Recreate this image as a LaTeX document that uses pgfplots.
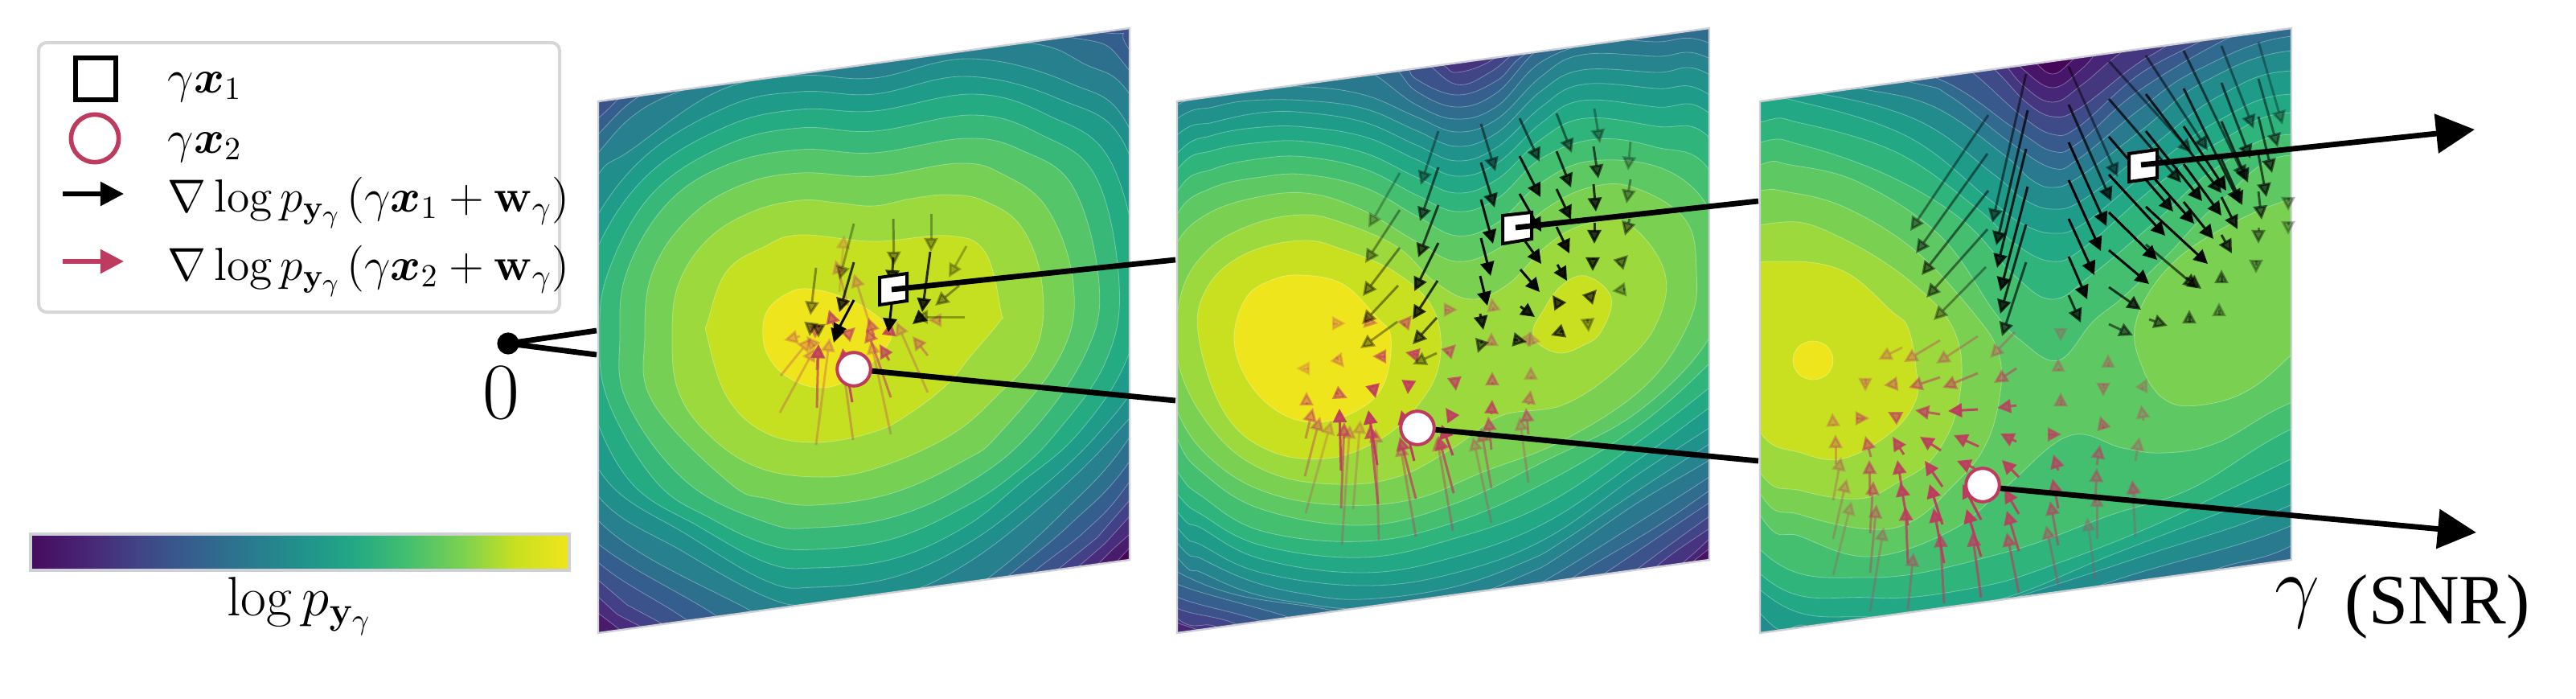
\documentclass[border=0pt]{standalone}
\usepackage{amsmath}
\usepackage[no-math]{fontspec}
\usepackage{pgfplots}
\usepackage{pgfplotstable}
\pgfplotsset{compat=1.18}
\usetikzlibrary{arrows.meta}
\newfontfamily\tms{Liberation Serif}
\DeclareMathSizes{13.3}{13.3}{10.1}{8.1}
\DeclareMathSizes{16.5}{16.5}{12.5}{9.5}

% viridis, named by position x100
\definecolor{v05}{HTML}{471365}\definecolor{v03}{HTML}{460B5E}
\definecolor{v10}{HTML}{482475}\definecolor{v15}{HTML}{463480}
\definecolor{v20}{HTML}{414487}\definecolor{v25}{HTML}{3B528B}
\definecolor{v30}{HTML}{355F8D}\definecolor{v35}{HTML}{2F6C8E}
\definecolor{v40}{HTML}{2A788E}
\definecolor{v45}{HTML}{25848E}\definecolor{v50}{HTML}{21918C}\definecolor{v55}{HTML}{1E9C89}
\definecolor{v60}{HTML}{22A884}\definecolor{v65}{HTML}{2FB47C}\definecolor{v70}{HTML}{44BF70}
\definecolor{v75}{HTML}{5EC962}\definecolor{v80}{HTML}{7AD151}\definecolor{v85}{HTML}{9BD93C}
\definecolor{v92}{HTML}{C8E020}\definecolor{v97}{HTML}{EFE51C}
% first panel has wider colour steps
\definecolor{a91}{HTML}{C5E021}\definecolor{a79}{HTML}{75D054}\definecolor{a73}{HTML}{54C568}
\definecolor{a67}{HTML}{37B878}\definecolor{a61}{HTML}{25AB82}\definecolor{a49}{HTML}{208F8C}
\definecolor{a43}{HTML}{27808E}\definecolor{a37}{HTML}{2D708E}\definecolor{a31}{HTML}{345E8D}
\definecolor{a19}{HTML}{424086}\definecolor{a13}{HTML}{472D7B}\definecolor{a07}{HTML}{481B6D}
\definecolor{a02}{HTML}{450559}
% third panel, valley at the top
\definecolor{c48}{HTML}{228C8D}\definecolor{c41}{HTML}{297A8E}\definecolor{c34}{HTML}{306A8E}
\definecolor{c28}{HTML}{38598C}\definecolor{c22}{HTML}{3F4B89}\definecolor{c16}{HTML}{45377F}
\definecolor{c11}{HTML}{482677}\definecolor{c06}{HTML}{47166A}
\definecolor{crim}{HTML}{BE3A5E}
\definecolor{boxgray}{HTML}{D6D6D6}
\definecolor{edgegray}{HTML}{CFCFD6}

% a tikz shade only shows the middle half of a declared shading
\pgfdeclarehorizontalshading{viridisbar}{100bp}{
 color(0bp)=(v03);color(25bp)=(v03);color(30bp)=(v10);color(35bp)=(v20);color(40bp)=(v30);color(45bp)=(v40);
 color(50bp)=(v50);color(55bp)=(v60);color(60bp)=(v70);color(65bp)=(v80);color(70bp)=(v92);color(75bp)=(v97);color(100bp)=(v97)}

\newcommand{\lev}[2]{\addplot[fill=#1,draw=white,draw opacity=.33,line width=.2pt,smooth cycle,tension=.65] coordinates {#2};}
\newcommand{\levs}[2]{\addplot[fill=#1,draw=white,draw opacity=.33,line width=.2pt] coordinates {#2} --cycle;}
\newcommand{\base}[1]{\addplot[fill=#1,draw=none] coordinates {(600,0) (3000,0) (3000,868) (600,868)} --cycle;}

% arrows: tail x y, tip xe ye, opacity a
\pgfplotstableread{
x y xe ye a
1111 272 1112 330 .35
1158 266 1158 313 .3
1202 306 1180 345 .25
1062 278 1044 348 .3
1062 326 1044 388 .75
1015 333 1008 392 .35
1111 320 1109 353 .7
1157 313 1147 388 .8
1193 355 1163 380 .35
1200 394 1137 394 .3
1109 378 1105 413 .95
1148 392 1135 403 .8
1062 373 1037 420 1
1009 402 1007 418 .4
1041 413 1037 426 .9
1018 407 1018 420 .4
1741 215 1702 283 .25
1741 261 1698 327 .35
1741 308 1695 368 .4
1739 355 1694 403 .4
1738 400 1692 433 .35
1787 439 1757 453 .35
1789 163 1767 230 .35
1789 208 1766 275 .55
1789 255 1764 320 .65
1789 302 1759 362 .75
1788 349 1757 397 .75
1787 395 1757 428 .6
1842 154 1860 213 .45
1842 202 1859 258 .7
1842 248 1857 303 .9
1842 296 1854 343 .95
1841 343 1850 380 .95
1841 390 1845 410 .8
1890 147 1915 201 .55
1890 194 1916 245 .85
1890 241 1917 288 .95
1897 300 1917 328 .95
1891 335 1915 363 .95
1891 381 1909 394 .85
1936 141 1955 190 .45
1936 188 1954 233 .75
1936 235 1954 273 .85
1936 282 1952 315 .9
1937 329 1949 349 .9
1940 380 1931 367 .7
1983 135 1990 178 .3
1982 182 1988 222 .6
1982 229 1985 263 .75
1983 277 1983 303 .75
1981 323 1981 337 .7
1975 372 1986 360 .6
1975 402 1976 413 .3
2028 176 2025 212 .25
2028 223 2023 253 .35
2027 272 2021 293 .45
2014 328 2025 317 .45
2019 360 2005 362 .3
1888 423 1899 425 .6
1842 427 1838 439 .5
1940 413 1929 417 .6
2473 143 2376 287 .4
2472 191 2383 315 .45
2473 237 2390 342 .5
2472 285 2396 370 .45
2470 332 2405 398 .35
2520 92 2478 277 .5
2522 137 2483 305 .7
2520 185 2484 333 .8
2522 232 2488 362 .85
2520 279 2488 390 .75
2520 326 2490 418 .6
2573 83 2634 220 .45
2573 130 2626 250 .7
2573 177 2620 281 .9
2573 224 2613 312 1
2573 272 2605 342 .95
2573 319 2596 372 .9
2573 367 2588 401 .7
2623 76 2726 190 .45
2623 123 2713 227 .7
2623 170 2703 263 .9
2623 217 2693 293 1
2623 264 2683 323 1
2623 311 2673 353 .95
2623 357 2663 385 .7
2623 403 2653 417 .5
2669 69 2746 187 .5
2669 117 2763 240 .8
2669 163 2739 250 .9
2669 210 2729 278 1
2669 257 2746 328 .95
2669 304 2733 358 .6
2716 63 2793 223 .55
2716 110 2786 253 .75
2716 157 2769 237 .9
2716 204 2763 268 .9
2716 251 2753 297 .9
2763 57 2803 160 .4
2763 103 2799 197 .6
2763 151 2796 227 .7
2763 198 2789 255 .75
2763 245 2783 285 .8
2763 292 2776 315 .7
2809 52 2839 155 .3
2809 98 2833 183 .45
2809 145 2826 215 .6
2809 192 2819 245 .6
2809 238 2813 273 .55
2809 283 2809 303 .4
2846 250 2846 262 .3
2846 280 2846 292 .25
2806 330 2806 340 .3
2763 343 2763 335 .4
2723 393 2723 385 .4
2760 385 2760 376 .3
2719 345 2738 359 .6
2673 397 2696 405 .5
}\blackarrows

\pgfplotstableread{
x y xe ye a
1044 363 1050 292 .2
1055 380 1039 323 .3
1087 420 1062 340 .3
1041 417 1031 385 .7
1053 417 1064 407 .6
1087 417 1080 395 .5
1106 415 1108 400 .8
1167 398 1154 398 .3
995 418 975 423 .3
1009 413 1025 405 .45
1007 423 1003 418 .3
971 467 1009 420 .3
970 513 1014 432 .3
1016 507 1018 428 .65
1016 460 1018 428 .6
1015 553 1032 420 .3
1060 500 1048 433 .85
1061 547 1046 437 .35
1108 494 1078 408 .55
1108 540 1083 423 .3
1154 488 1115 400 .3
1154 442 1135 418 .4
1106 448 1094 428 .7
1664 402 1674 402 .25
1703 400 1714 402 .4
1748 402 1756 392 .5
1803 385 1813 385 .35
1857 382 1855 370 .3
1900 420 1905 412 .25
1621 458 1612 458 .2
1665 448 1672 457 .3
1715 443 1707 443 .55
1757 440 1748 438 .7
1802 437 1811 428 .55
1855 425 1855 413 .35
1905 420 1902 412 .25
1904 467 1904 455 .3
1856 475 1856 462 .5
1809 470 1811 486 .7
1752 477 1751 490 .85
1708 482 1711 495 .85
1665 490 1676 495 .55
1625 500 1625 487 .4
1901 503 1904 485 .4
1855 515 1856 497 .7
1807 520 1798 507 .85
1759 573 1743 510 .95
1807 566 1793 528 .95
1714 627 1704 528 .7
1713 578 1702 510 .95
1668 585 1666 508 .9
1668 632 1672 525 .6
1669 677 1679 528 .3
1624 545 1633 507 .45
1623 592 1642 518 .4
1624 638 1656 523 .25
1761 620 1741 543 .7
1761 667 1741 550 .4
1715 672 1711 533 .35
1683 633 1692 522 .25
1808 613 1789 542 .7
1807 660 1787 543 .4
1855 607 1842 532 .45
1855 650 1832 543 .3
1855 559 1851 518 .6
1901 540 1898 507 .5
1901 600 1890 518 .3
2366 432 2336 447 .3
2413 423 2368 450 .35
2460 418 2408 452 .35
2506 413 2475 445 .35
2563 410 2563 425 .25
2560 458 2560 445 .3
2622 450 2622 440 .3
2320 478 2320 487 .3
2360 477 2343 479 .4
2413 469 2374 482 .5
2460 464 2416 482 .5
2508 458 2480 476 .5
2563 497 2563 488 .4
2616 483 2616 493 .35
2666 480 2671 470 .25
2318 520 2325 520 .4
2363 520 2348 512 .6
2413 515 2382 510 .7
2460 509 2423 511 .9
2508 504 2484 507 .75
2615 527 2612 517 .45
2666 523 2663 503 .3
2280 528 2279 513 .3
2283 577 2283 540 .35
2327 568 2320 542 .55
2368 565 2354 543 .8
2414 560 2388 543 .85
2461 555 2430 541 .85
2508 549 2488 539 .8
2556 540 2564 540 .6
2280 622 2290 568 .3
2326 617 2325 572 .55
2366 610 2360 572 .8
2416 605 2394 573 .9
2456 582 2434 573 .9
2511 593 2490 572 .9
2560 585 2554 565 .7
2608 578 2612 553 .5
2656 573 2661 543 .3
2280 670 2297 595 .3
2326 663 2330 598 .5
2373 653 2364 600 .85
2416 652 2400 602 .95
2464 646 2441 602 1
2511 639 2493 608 .85
2560 632 2553 595 .7
2606 625 2608 582 .45
2656 620 2652 597 .3
2280 715 2303 623 .25
2326 712 2334 627 .4
2373 700 2370 630 .75
2418 700 2405 632 .9
2464 692 2446 633 .95
2511 685 2496 635 .8
2560 678 2550 623 .55
2608 670 2608 613 .35
2656 667 2652 597 .3
2326 760 2343 655 .3
2373 758 2380 687 .4
2418 750 2413 663 .6
2464 743 2453 662 .7
2511 737 2496 662 .6
2560 727 2545 653 .4
2606 720 2596 643 .25
}\redarrows

\begin{document}
\begin{tikzpicture}
\begin{axis}[
  scale only axis, width=801pt, height=217pt,
  xmin=0, xmax=3204, ymin=0, ymax=868,
  y dir=reverse, hide axis, clip=false,
  point meta min=0, point meta max=1,
  quiver arrows/.style={
    quiver={u=\thisrow{xe}-\thisrow{x}, v=\thisrow{ye}-\thisrow{y},
      every arrow/.append style={
        /utils/exec={\pgfmathsetmacro\aop{\pgfplotspointmetatransformed/1000}},
        opacity=\aop, line width=.75pt,
        -{Triangle[length=4.3pt,width=4.3pt]}}}}
]
% keeps the page as large as the whole axis
\addplot[draw=none] coordinates {(0,0)(3204,868)};
% ---- panel 1
\begin{scope}
\clip (axis cs:744,126) -- (axis cs:1405,35) -- (axis cs:1405,696) -- (axis cs:744,787) -- cycle;
\base{a02}
\levs{a07}{(700,-50)(1500,-50)(1500,590)(1404,682)(1392,695)(1370,720)(700,900)}
\levs{a13}{(700,-50)(1500,-50)(1500,570)(1404,665)(1385,682)(1368,699)(1340,730)(800,830)(770,782)(745,763)(700,725)}
\levs{a19}{(700,-50)(1500,-50)(1500,550)(1404,643)(1375,675)(1343,703)(1310,735)(830,830)(797,779)(768,764)(745,743)(700,700)}
\levs{v25}{(700,-50)(1500,-50)(1500,530)(1404,623)(1365,668)(1317,707)(1280,745)(860,830)(823,775)(780,752)(745,722)(700,680)}
\lev{a31}{(744,147)(850,70)(1100,25)(1367,40)(1405,62)(1500,220)(1500,450)(1404,600)(1350,660)(1287,710)(1220,770)(1014,860)(920,825)(853,770)(745,700)(680,620)(630,400)(660,230)}
\lev{a37}{(744,167)(796,119)(870,85)(1100,40)(1328,46)(1405,88)(1490,250)(1490,430)(1404,575)(1333,650)(1258,713)(1180,775)(1014,840)(950,815)(890,765)(745,677)(670,590)(645,400)(670,250)}
\lev{a43}{(744,190)(790,142)(849,112)(936,85)(1100,55)(1275,53)(1350,80)(1405,117)(1470,250)(1480,400)(1404,545)(1322,637)(1230,718)(1140,775)(1014,800)(935,760)(745,648)(680,500)(660,400)(680,270)}
\lev{a49}{(995,94)(1087,97)(1207,73)(1330,103)(1405,160)(1459,353)(1445,460)(1387,540)(1300,625)(1200,702)(1110,742)(1014,752)(955,743)(850,686)(745,618)(692,500)(679,417)(702,303)(744,217)(784,187)(894,113)}
\lev{v55}{(995,114)(1087,117)(1202,95)(1317,123)(1399,180)(1436,353)(1420,460)(1365,540)(1285,615)(1200,678)(1110,718)(1014,730)(955,723)(855,665)(757,600)(711,500)(697,417)(720,313)(793,203)(904,133)}
\lev{a61}{(995,136)(1087,138)(1211,117)(1303,143)(1381,200)(1418,353)(1400,450)(1340,540)(1270,600)(1200,655)(1110,695)(1014,706)(955,700)(870,655)(785,600)(734,500)(722,417)(738,320)(803,220)(904,157)}
\lev{a67}{(995,159)(1087,163)(1211,143)(1294,167)(1363,220)(1392,353)(1375,450)(1312,540)(1260,590)(1200,630)(1110,670)(1014,683)(955,677)(885,645)(817,600)(757,500)(746,417)(757,337)(812,240)(904,180)}
\lev{a73}{(995,186)(1087,190)(1202,172)(1271,187)(1335,233)(1367,353)(1350,440)(1280,540)(1200,603)(1110,643)(1014,656)(955,650)(855,600)(780,500)(771,417)(780,337)(830,253)(904,205)}
\lev{a79}{(995,215)(1087,219)(1193,203)(1248,217)(1303,260)(1335,353)(1320,440)(1242,540)(1200,572)(1110,613)(1014,628)(955,620)(907,600)(812,500)(802,417)(812,337)(858,270)(922,230)}
\lev{v85}{(995,249)(1041,252)(1087,256)(1133,247)(1179,242)(1225,250)(1271,283)(1296,353)(1289,433)(1239,493)(1179,543)(1087,583)(1014,593)(940,580)(881,540)(844,487)(836,420)(844,353)(881,297)(936,263)}
\lev{a91}{(995,292)(1087,300)(1179,293)(1225,313)(1245,387)(1243,400)(1207,443)(1179,477)(1133,513)(1087,537)(1014,550)(950,537)(904,493)(880,420)(881,397)(904,337)(950,307)}
\lev{v97}{(949,420)(955,385)(985,362)(1014,360)(1050,370)(1083,387)(1108,412)(1100,435)(1083,452)(1050,475)(1018,482)(985,472)(960,450)}
\end{scope}
% ---- panel 2
\begin{scope}
\clip (axis cs:1464,126) -- (axis cs:2126,35) -- (axis cs:2126,696) -- (axis cs:1464,787) -- cycle;
\base{v05}
\levs{v10}{(1400,0)(2200,0)(2200,620)(2126,682)(2107,697)(2080,730)(1800,850)(1400,850)}
\levs{v15}{(1400,0)(2200,0)(2200,600)(2126,670)(2110,685)(2095,698)(2060,735)(1800,850)(1520,850)(1490,783)(1466,775)(1400,720)}
\lev{v20}{(1793,80)(1740,55)(1640,20)(1500,20)(1400,60)(1371,200)(1371,500)(1400,690)(1466,770)(1512,779)(1560,810)(1700,850)(1900,830)(2020,750)(2063,702)(2126,657)(2180,620)(2250,500)(2250,200)(2200,60)(2050,10)(1950,10)(1899,37)(1855,75)(1812,90)}
\lev{v25}{(1770,75)(1720,45)(1620,25)(1500,30)(1400,90)(1371,300)(1390,650)(1430,730)(1466,757)(1538,776)(1600,815)(1750,840)(1900,800)(1990,745)(2037,707)(2126,642)(2190,600)(2260,450)(2266,120)(2200,30)(2050,0)(1945,20)(1888,62)(1853,90)(1812,105)}
\lev{v30}{(1745,76)(1690,50)(1600,35)(1480,50)(1395,110)(1385,300)(1395,630)(1430,715)(1466,743)(1568,772)(1640,805)(1780,820)(1900,775)(2000,710)(2126,625)(2190,585)(2243,470)(2243,110)(2174,30)(1991,20)(1899,66)(1862,100)(1812,118)(1761,98)}
\lev{v35}{(1725,78)(1650,62)(1560,60)(1440,93)(1385,150)(1385,600)(1420,695)(1466,727)(1602,767)(1670,795)(1810,800)(1900,760)(1958,717)(2060,655)(2126,610)(2190,565)(2243,450)(2243,110)(2125,30)(1991,33)(1917,59)(1862,115)(1812,133)(1761,113)}
\lev{v40}{(1692,84)(1624,83)(1532,103)(1440,113)(1385,153)(1385,580)(1420,680)(1466,712)(1540,740)(1652,758)(1730,780)(1850,760)(1928,718)(2037,650)(2126,593)(2190,550)(2243,430)(2243,120)(2125,53)(2060,52)(1991,51)(1917,77)(1862,132)(1812,148)(1761,130)}
\lev{v45}{(1465,130)(1509,120)(1555,112)(1624,108)(1697,118)(1761,145)(1812,164)(1862,148)(1917,95)(1968,68)(2060,70)(2125,72)(2243,153)(2243,430)(2190,530)(2126,572)(2037,625)(1945,688)(1900,713)(1807,747)(1695,757)(1620,750)(1555,737)(1495,712)(1466,695)(1385,583)(1385,187)}
\lev{v50}{(1465,147)(1509,133)(1555,125)(1624,125)(1697,135)(1761,162)(1812,182)(1862,165)(1917,113)(1968,87)(2060,90)(2125,92)(2243,187)(2243,450)(2190,510)(2126,552)(2037,610)(1945,672)(1900,697)(1807,730)(1695,745)(1620,738)(1555,722)(1495,695)(1466,677)(1385,567)(1385,220)}
\lev{v55}{(1465,167)(1509,152)(1569,140)(1624,140)(1697,152)(1761,180)(1812,200)(1862,183)(1917,133)(1968,105)(2060,110)(2125,117)(2243,220)(2243,440)(2190,490)(2126,532)(2037,590)(1922,670)(1807,713)(1695,728)(1569,712)(1495,678)(1466,658)(1385,550)(1385,253)}
\lev{v60}{(1465,190)(1509,168)(1569,158)(1624,158)(1697,170)(1761,198)(1812,219)(1862,203)(1917,153)(1968,125)(2060,133)(2125,140)(2220,253)(2220,440)(2180,470)(2126,507)(2037,572)(1922,650)(1807,693)(1695,712)(1569,695)(1495,657)(1466,638)(1394,533)(1394,287)}
\lev{v65}{(1465,210)(1509,187)(1569,177)(1624,176)(1697,190)(1761,220)(1812,240)(1862,223)(1917,173)(1972,147)(2060,157)(2125,170)(2197,287)(2197,420)(2126,482)(2037,550)(1922,627)(1807,670)(1695,693)(1569,678)(1495,640)(1465,615)(1403,533)(1403,320)}
\lev{v70}{(1465,237)(1509,210)(1569,197)(1624,195)(1697,210)(1761,242)(1812,263)(1862,247)(1917,197)(1986,173)(2060,183)(2125,210)(2174,337)(2170,400)(2126,452)(2037,530)(1922,600)(1807,650)(1695,673)(1569,660)(1495,617)(1465,587)(1417,500)(1417,353)}
\lev{v75}{(1465,265)(1509,233)(1569,220)(1624,217)(1697,233)(1761,268)(1812,293)(1862,277)(1917,227)(1980,200)(2069,210)(2126,260)(2142,337)(2126,420)(2037,512)(1922,573)(1807,627)(1695,653)(1569,633)(1495,587)(1465,547)(1440,467)(1440,353)}
\lev{v80}{(1465,300)(1500,267)(1555,247)(1624,240)(1692,260)(1761,300)(1812,325)(1867,307)(1922,260)(1977,233)(2032,233)(2096,273)(2110,337)(2101,400)(2046,480)(1945,547)(1844,587)(1761,620)(1670,628)(1578,613)(1509,573)(1465,513)(1449,433)(1449,353)}
\lev{v85}{(1619,267)(1670,277)(1738,307)(1784,350)(1830,372)(1876,353)(1922,307)(1968,280)(2023,277)(2070,337)(2060,403)(2014,457)(1945,503)(1867,517)(1807,557)(1738,593)(1660,602)(1578,587)(1513,540)(1467,457)(1468,370)(1500,313)(1555,280)}
\lev{v92}{(1617,299)(1670,310)(1738,340)(1784,387)(1790,453)(1761,507)(1715,547)(1651,570)(1578,560)(1523,513)(1491,420)(1500,360)(1546,317)}
\lev{v92}{(1972,343)(2004,370)(1991,413)(1968,430)(1940,439)(1913,427)(1907,410)(1917,390)(1940,357)}
\lev{v97}{(1619,342)(1670,353)(1711,393)(1730,420)(1720,480)(1683,513)(1633,525)(1587,510)(1550,470)(1535,420)(1550,370)(1582,348)}
\end{scope}
% ---- panel 3
\begin{scope}
\clip (axis cs:2189,126) -- (axis cs:2850,35) -- (axis cs:2850,696) -- (axis cs:2189,787) -- cycle;
\base{a02}
\lev{c06}{(2490,45)(2525,72)(2553,92)(2581,72)(2615,45)(2700,0)(2900,0)(3050,100)(3050,800)(2080,850)(2000,400)(2100,50)(2300,0)(2420,10)}
\lev{c11}{(2480,50)(2515,85)(2553,109)(2590,85)(2630,45)(2720,0)(2900,0)(3050,100)(3050,800)(2080,850)(2000,400)(2100,50)(2300,5)(2410,15)}
\lev{c16}{(2470,55)(2515,105)(2553,127)(2590,105)(2640,64)(2730,5)(2900,0)(3050,100)(3050,800)(2080,850)(2000,400)(2100,55)(2300,10)(2400,25)}
\lev{c22}{(2440,60)(2480,86)(2520,127)(2553,145)(2586,135)(2653,83)(2693,58)(2750,20)(2900,0)(3050,100)(3050,800)(2080,850)(2000,400)(2100,60)(2300,25)(2380,40)}
\lev{c28}{(2410,65)(2453,90)(2513,143)(2553,167)(2586,157)(2660,93)(2739,50)(2800,15)(2950,20)(3050,100)(3050,800)(2080,850)(2000,400)(2100,70)(2300,40)}
\lev{c34}{(2406,96)(2506,160)(2553,188)(2586,177)(2660,113)(2776,45)(2860,15)(3000,40)(3050,400)(3050,820)(2600,860)(2080,840)(2010,500)(2010,90)(2250,60)}
\lev{c41}{(2380,103)(2426,120)(2500,177)(2553,209)(2586,197)(2660,137)(2733,87)(2851,45)(3000,60)(3000,580)(2851,678)(2726,720)(2500,840)(2080,830)(2020,500)(2020,100)(2200,70)}
\lev{c48}{(2313,110)(2406,133)(2493,193)(2526,223)(2553,233)(2586,220)(2666,160)(2739,103)(2851,63)(3000,80)(3000,560)(2851,653)(2606,730)(2400,820)(2100,820)(2030,500)(2030,120)(2180,90)}
\lev{v55}{(2260,116)(2386,150)(2480,217)(2516,247)(2553,260)(2593,247)(2679,180)(2759,120)(2851,88)(3000,110)(3000,540)(2851,627)(2660,693)(2506,743)(2326,800)(2247,778)(2189,762)(2040,540)(2040,140)(2150,110)}
\lev{v60}{(2189,127)(2240,127)(2373,170)(2473,247)(2513,277)(2553,290)(2593,277)(2679,207)(2759,150)(2851,117)(3000,140)(3000,520)(2851,600)(2626,690)(2480,747)(2326,767)(2189,733)(2040,520)(2040,160)}
\lev{v65}{(2189,152)(2240,153)(2360,190)(2460,260)(2506,303)(2553,325)(2593,307)(2679,233)(2759,177)(2851,140)(3000,170)(3000,500)(2851,570)(2693,647)(2560,700)(2460,730)(2326,743)(2189,713)(2060,500)(2060,200)}
\lev{v70}{(2189,177)(2240,180)(2346,217)(2440,273)(2506,343)(2553,372)(2600,343)(2679,277)(2759,207)(2851,167)(3000,200)(3000,480)(2851,533)(2726,607)(2626,640)(2493,687)(2326,718)(2189,683)(2080,480)(2080,220)}
\lev{v75}{(2189,205)(2227,205)(2313,227)(2413,293)(2480,387)(2513,423)(2560,448)(2603,400)(2640,370)(2693,320)(2759,253)(2851,193)(3000,250)(3000,450)(2851,500)(2759,550)(2693,563)(2640,557)(2573,542)(2493,607)(2426,660)(2326,692)(2240,667)(2189,640)(2100,450)(2100,250)}
\lev{v80}{(2189,237)(2220,238)(2293,257)(2380,310)(2453,387)(2486,440)(2486,500)(2466,560)(2426,607)(2380,647)(2326,658)(2240,640)(2189,613)(2120,450)(2120,250)}
\lev{v80}{(2851,247)(2759,287)(2693,337)(2656,403)(2666,460)(2693,497)(2733,504)(2793,487)(2851,440)(2950,340)(2950,230)}
\lev{v85}{(2220,276)(2293,297)(2380,353)(2433,417)(2436,500)(2406,567)(2360,600)(2313,620)(2240,610)(2189,587)(2130,450)(2150,310)}
\lev{v92}{(2220,325)(2293,337)(2353,387)(2373,407)(2383,457)(2383,497)(2353,537)(2293,570)(2240,563)(2189,537)(2150,430)(2170,340)}
\lev{v97}{(2255,424)(2273,431)(2280,448)(2273,465)(2255,472)(2237,465)(2230,448)(2237,431)}
\end{scope}
% panel outlines
\addplot[draw=edgegray,line width=.6pt] coordinates {(744,126)(1405,35)(1405,696)(744,787)} --cycle;
\addplot[draw=edgegray,line width=.6pt] coordinates {(1464,126)(2126,35)(2126,696)(1464,787)} --cycle;
\addplot[draw=edgegray,line width=.6pt] coordinates {(2189,126)(2850,35)(2850,696)(2189,787)} --cycle;
% score arrows
\addplot[quiver arrows, crim, fill=crim, point meta=\thisrow{a}] table[x=x,y=y] {\redarrows};
\addplot[quiver arrows, black, fill=black, point meta=\thisrow{a}] table[x=x,y=y] {\blackarrows};
% square markers
\addplot[fill=white,draw=black,line width=1pt] coordinates {(1094,345)(1128,340)(1128,374)(1094,379)} --cycle;
\addplot[fill=white,draw=black,line width=1pt] coordinates {(1869,268)(1905,264)(1905,297)(1869,303)} --cycle;
\addplot[fill=white,draw=black,line width=1pt] coordinates {(2648,191)(2683,186)(2683,221)(2648,226)} --cycle;
% circle markers
\addplot[only marks,mark=*,mark size=5.2pt,mark options={fill=white,draw=crim,line width=1pt}] coordinates {(1062,459)(1763,532)(2466,603)};
% trajectories
\addplot[black,line width=1.7pt] coordinates {(632,427)(742,411)};
\addplot[black,line width=1.7pt] coordinates {(632,427)(742,441)};
\addplot[black,line width=1.7pt] coordinates {(1109,360)(1462,323)};
\addplot[black,line width=1.7pt] coordinates {(1885,283)(2187,250)};
\addplot[black,line width=1.7pt,-{Triangle[length=12pt,width=12pt]}] coordinates {(2663,205)(3078,161)};
\addplot[black,line width=1.7pt] coordinates {(1062,459)(1462,498)};
\addplot[black,line width=1.7pt] coordinates {(1763,532)(2187,573)};
\addplot[black,line width=1.7pt,-{Triangle[length=12pt,width=12pt]}] coordinates {(2466,605)(3080,662)};
\addplot[only marks,mark=*,mark size=3.2pt,black] coordinates {(632,427)};
% legend box
\addplot[draw=boxgray,fill=white,line width=1pt,rounded corners=2.5pt] coordinates {(48,53)(696,53)(696,388)(48,388)} --cycle;
\addplot[draw=black,fill=white,line width=1.4pt] coordinates {(94,72)(144,72)(144,124)(94,124)} --cycle;
\addplot[only marks,mark=*,mark size=7.4pt,mark options={fill=white,draw=crim,line width=1.4pt}] coordinates {(118,172)};
\addplot[black,line width=1.4pt,-{Triangle[length=7.3pt,width=7.3pt]}] coordinates {(78,241)(154,241)};
\addplot[crim,line width=1.4pt,-{Triangle[length=7.3pt,width=7.3pt]}] coordinates {(78,325)(154,325)};
\node[anchor=base west,inner sep=0pt,font=\fontsize{13.3}{15}\selectfont] at (axis cs:208,115) {$\gamma\boldsymbol{x}_1$};
\node[anchor=base west,inner sep=0pt,font=\fontsize{13.3}{15}\selectfont] at (axis cs:208,190) {$\gamma\boldsymbol{x}_2$};
\node[anchor=base west,inner sep=0pt,font=\fontsize{13.3}{15}\selectfont] at (axis cs:208,263) {$\nabla\log p_{\mathbf{y}_\gamma}\mkern2mu(\gamma\boldsymbol{x}_1+\mathbf{w}_\gamma)$};
\node[anchor=base west,inner sep=0pt,font=\fontsize{13.3}{15}\selectfont] at (axis cs:208,348) {$\nabla\log p_{\mathbf{y}_\gamma}\mkern2mu(\gamma\boldsymbol{x}_2+\mathbf{w}_\gamma)$};
% colour bar
\shade[shading=viridisbar] (axis cs:38,664) rectangle (axis cs:708,709);
\addplot[draw=edgegray,line width=1pt] coordinates {(38,664)(708,664)(708,709)(38,709)} --cycle;
\node[anchor=base,inner sep=0pt,font=\fontsize{16.5}{19}\selectfont] at (axis cs:373,765) {$\log p_{\mathbf{y}_\gamma}$};
% axis labels
\node[anchor=base,inner sep=0pt,font=\fontsize{27}{30}\selectfont] at (axis cs:623,520) {$0$};
\node[anchor=base west,inner sep=0pt,font=\fontsize{29}{32}\selectfont] at (axis cs:2829,761) {$\gamma$};
\node[anchor=base west,inner sep=0pt,font=\fontsize{22}{26}\selectfont] at (axis cs:2916,775) {\tms (SNR)};
\end{axis}
\end{tikzpicture}
\end{document}
